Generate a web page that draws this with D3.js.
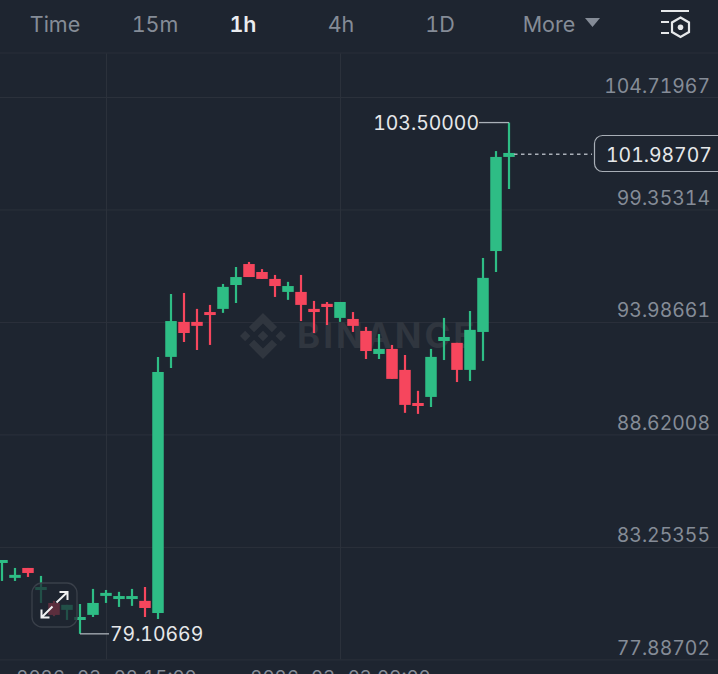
<!DOCTYPE html>
<html><head><meta charset="utf-8">
<script src="https://cdnjs.cloudflare.com/ajax/libs/d3/7.8.5/d3.min.js"></script>
<style>
html,body{margin:0;padding:0;background:#1e2530;overflow:hidden}
svg{display:block}
text{font-family:Inter,"Noto Sans",sans-serif;font-variant-numeric:tabular-nums}
</style></head><body>
<svg id="c" width="718" height="674"></svg>
<script>
const navLabels = ["Time","15m","1h","4h","1D","More"];
const priceTicks = [104.71967,99.35314,93.98661,88.62008,83.25355,77.88702];
const timeTickIndex = [8,26];
const timeTickLabels = ["2026-03-02 15:00","2026-03-03 09:00"];
const lastPrice = 101.98707;
const highLabel = 103.50000;
const lowLabel = 79.10669;
const open  = [82.55,81.87,82.25,81.30,80.58,80.25,79.82,80.01,80.96,80.82,80.82,80.68,80.10,92.32,93.99,93.99,94.46,94.61,95.75,96.75,96.37,96.04,95.42,95.42,94.61,94.85,94.18,94.13,93.56,92.46,92.70,91.70,90.12,90.41,93.08,92.99,91.70,93.51,97.37,101.86];
const high  = [82.63,82.25,82.25,81.87,80.68,80.49,80.53,81.25,81.20,81.11,81.25,81.34,92.32,95.32,95.37,94.61,94.80,95.80,96.61,96.85,96.51,96.23,95.90,96.23,94.99,94.94,94.94,94.46,93.75,93.41,92.89,92.41,90.70,92.70,94.18,92.99,94.51,97.04,102.14,103.50];
const low   = [81.63,81.63,81.82,80.58,79.95,79.77,79.10669,79.91,80.58,80.39,80.44,79.91,79.82,91.79,93.03,92.65,92.89,94.42,94.89,96.13,96.04,95.18,95.04,94.03,93.46,93.84,93.99,93.51,92.22,92.22,91.27,89.65,89.60,89.93,92.17,91.12,91.17,92.13,96.37,100.33];
const close = [82.63,81.92,82.01,81.34,80.01,80.49,79.91,80.58,81.06,80.91,80.91,80.34,91.60,94.03,93.46,93.80,94.37,95.66,96.13,96.13,96.04,95.70,95.70,94.80,94.46,94.70,94.94,93.80,92.60,92.70,91.27,90.03,90.03,92.32,93.27,91.70,93.61,96.09,101.86,102.05];

const grid = "#2b313b", gray = "#858c97", green = "#2ebd85", red = "#f6465d", bg = "#1e2530";
const svg = d3.select("#c");
const y = d3.scaleLinear().domain([priceTicks[5], priceTicks[0]]).range([659.4, 97]);
const x = d3.scaleLinear().domain([0, 39]).range([2, 509]);
const bodyW = 11.5;

// top bar
const navX = d3.scaleOrdinal().domain(navLabels).range([55,155,243,341,440,549]);
svg.append("g").selectAll("text").data(navLabels).join("text")
  .attr("x", d => navX(d)).attr("y", 31.5).attr("text-anchor", "middle")
  .attr("font-size", 21.5).attr("font-weight", d => d === "1h" ? 600 : 400)
  .attr("fill", d => d === "1h" ? "#eaecef" : gray).text(d => d);
svg.append("path").attr("d","M585 18H600L592.5 27Z").attr("fill",gray);
const ic = svg.append("g").attr("stroke","#e6e8ea").attr("fill","none").attr("stroke-width",2.2);
ic.append("path").attr("d","M661 11H689M661 22H669M661 33H669");
ic.append("path").attr("d","M680.5 17.5L689 22.5V32L680.5 37L672 32V22.5Z");
svg.append("circle").attr("cx",680.5).attr("cy",27.3).attr("r",2.8).attr("fill","#e6e8ea");

// frame lines
svg.append("line").attr("x1",0).attr("x2",718).attr("y1",53).attr("y2",53).attr("stroke","#282e38");

// horizontal grid and price labels
const axisY = d3.axisLeft(y).tickValues(priceTicks).tickFormat(d3.format(".5f")).tickSize(718);
const gy = svg.append("g").attr("transform","translate(718,0)").call(axisY);
gy.select(".domain").remove();
gy.selectAll("line").attr("stroke",grid);
gy.selectAll("text").attr("x",-8).attr("dy",-12+7).attr("text-anchor","end")
  .attr("font-size",19.4).attr("fill",gray);

// vertical grid and time labels
const axisX = d3.axisBottom(x).tickValues(timeTickIndex)
  .tickFormat((d,i) => timeTickLabels[i]).tickSize(-606);
const gx = svg.append("g").attr("transform","translate(0,659.4)").call(axisX);
gx.select(".domain").remove();
gx.selectAll("line").attr("stroke",grid);
gx.selectAll("text").attr("y",24.5).attr("dy",0).attr("font-size",18.8).attr("fill",gray).attr("text-anchor","middle");

// watermark
const wm = svg.append("g").attr("fill","#30363f");
wm.append("path").attr("transform","translate(240,313) scale(0.363)")
  .attr("d","M38.73 53.2l24.59-24.58 24.6 24.6 14.3-14.31L63.32 0 24.42 38.9l14.31 14.3z M0 63.31l14.3-14.31 14.31 14.31-14.31 14.3z M38.73 73.41l24.59 24.59 24.6-24.6 14.31 14.29-38.9 38.91-38.91-38.88v-.03l14.31-14.28z M98 63.31l14.3-14.31 14.31 14.3-14.31 14.32z M77.83 63.3L63.32 48.78 52.59 59.51l-1.24 1.23-2.54 2.54 14.51 14.5 14.51-14.47z");
wm.append("text").attr("x",297).attr("y",348).attr("font-size",35).attr("font-weight",700)
  .attr("letter-spacing",3).text("BINANCE");

// candles
const candles = open.map((o,i) => ({i, o, h:high[i], l:low[i], c:close[i]}));
const gc = svg.append("g");
const color = d => d.c >= d.o ? green : red;
gc.selectAll(".w").data(candles).join("line").attr("class","w")
  .attr("x1",d=>x(d.i)).attr("x2",d=>x(d.i)).attr("y1",d=>y(d.h)).attr("y2",d=>y(d.l))
  .attr("stroke",color).attr("stroke-width",2.2);
gc.selectAll(".b").data(candles).join("rect").attr("class","b")
  .attr("x",d=>x(d.i)-bodyW/2).attr("width",bodyW)
  .attr("y",d=>y(Math.max(d.o,d.c)))
  .attr("height",d=>Math.max(3,Math.abs(y(d.o)-y(d.c))))
  .attr("fill",color);

// high annotation
const txt = "#e6e8ea";
svg.append("path").attr("fill","none").attr("stroke","#aab0b8").attr("stroke-width",1.3)
  .attr("d",`M479 ${y(highLabel)}H${x(39)}`);
svg.append("text").attr("x",479).attr("y",y(highLabel)+7).attr("text-anchor","end")
  .attr("font-size",19.4).attr("fill",txt).text(d3.format(".5f")(highLabel));
// low annotation
svg.append("path").attr("fill","none").attr("stroke","#aab0b8").attr("stroke-width",1.3)
  .attr("d",`M${x(6)} ${y(lowLabel)}H109`);
svg.append("text").attr("x",110).attr("y",y(lowLabel)+7)
  .attr("font-size",19.4).attr("fill",txt).text(d3.format(".5f")(lowLabel));

// last price
svg.append("line").attr("x1",x(39)+5).attr("x2",592).attr("y1",y(lastPrice)).attr("y2",y(lastPrice))
  .attr("stroke","#aab0b8").attr("stroke-width",1.3).attr("stroke-dasharray","3.5 3.5");
svg.append("rect").attr("x",594.5).attr("y",135.5).attr("width",140).attr("height",36).attr("rx",8)
  .attr("fill",bg).attr("stroke","#a8aeb6").attr("stroke-width",1.2);
svg.append("text").attr("x",606).attr("y",y(lastPrice)+7.5).attr("font-size",19.4).attr("fill",txt)
  .text(d3.format(".5f")(lastPrice));

// expand button
svg.append("rect").attr("x",32).attr("y",583).attr("width",45).attr("height",44).attr("rx",10)
  .attr("fill",bg).attr("fill-opacity",0.72).attr("stroke","#3a404a").attr("stroke-width",1.3);
svg.append("path").attr("fill","none").attr("stroke","#f0f1f2").attr("stroke-width",2)
  .attr("d","M41.5 617.5L52.5 606.5M41.5 609.5V617.5H49.5M56.5 602.5L67.5 592M59.5 592H67.5V600");
</script>
</body></html>
